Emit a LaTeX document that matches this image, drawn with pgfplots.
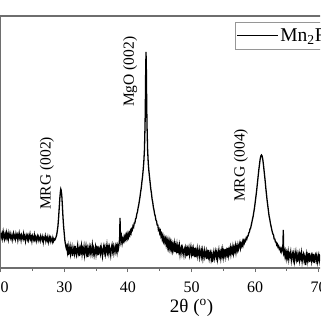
\documentclass[border=0pt]{standalone}
\usepackage{fontspec}
\setmainfont{Liberation Serif}
\usepackage{pgfplots}
\pgfplotsset{compat=1.18}
\definecolor{axisgray}{RGB}{110,110,110}
\definecolor{legendgray}{RGB}{150,150,150}

\begin{document}
\begin{tikzpicture}
\useasboundingbox (0,0) rectangle (320pt,320pt);
\clip (0,0) rectangle (320pt,320pt);
\begin{axis}[
  at={(0.7pt,52pt)}, anchor=south west,
  scale only axis, width=381.6pt, height=252pt,
  xmin=20, xmax=80, ymin=0, ymax=252,
  xtick={20,30,...,80}, minor x tick num=1,
  ytick=\empty,
  xtick pos=left,
  tick align=outside,
  major tick length=4pt, minor tick length=2.5pt,
  axis line style={draw=axisgray, line width=1.2pt},
  every tick/.style={axisgray, line width=1pt},
  /pgf/number format/assume math mode=true,
  xticklabel style={font=\fontsize{16}{18}\selectfont, anchor=base, yshift=-20pt},
  xlabel={2θ (\textsuperscript{o})},
  xlabel style={font=\fontsize{19}{22}\selectfont, anchor=base, at={(axis description cs:0.5,-0.1746)}},
  legend style={at={(0.614,0.977)}, anchor=north west, draw=legendgray, line width=0.8pt,
    font=\fontsize{19.5}{22}\selectfont, inner xsep=1pt, inner ysep=4.5pt},
  legend cell align=left,
  legend image code/.code={\draw[black, line width=1pt] (0pt,0pt) -- (41pt,0pt);},
]
\addplot[black, line width=1.3pt] table {
20.0 35
20.1 31
20.2 34
20.3 30
20.4 36
20.5 32
20.6 29
20.7 34
20.8 31
20.9 35
21.0 30
21.1 33
21.2 29
21.3 35
21.4 32
21.5 30
21.6 34
21.7 31
21.8 28
21.9 33
22.0 35
22.1 30
22.2 32
22.3 29
22.4 34
22.5 31
22.6 33
22.7 28
22.8 32
22.9 35
23.0 30
23.1 32
23.2 28
23.3 33
23.4 31
23.5 29
23.6 34
23.7 30
23.8 32
23.9 27
24.0 31
24.1 33
24.2 29
24.3 32
24.4 28
24.5 31
24.6 34
24.7 29
24.8 31
24.9 27
25.0 32
25.1 30
25.2 28
25.3 33
25.4 29
25.5 31
25.6 27
25.7 30
25.8 32
25.9 28
26.0 31
26.1 29
26.2 27
26.3 32
26.4 30
26.5 28
26.6 31
26.7 26
26.8 30
26.9 29
27.0 32
27.1 27
27.2 30
27.3 28
27.4 31
27.5 26
27.6 29
27.7 31
27.8 27
27.9 30
28.0 28
28.1 26
28.2 30
28.3 27
28.4 29
28.5 28
28.6 29
28.7 31
28.8 33
28.9 37
29.0 42
29.1 50
29.2 60
29.3 70
29.4 77
29.45 79
29.5 78
29.6 73
29.7 62
29.8 50
29.9 41
30.0 34
30.1 27
30.2 23
30.3 20
30.4 22
30.5 16
30.6 21
30.7 13
30.8 19
30.9 22
31.0 14
31.1 18
31.2 21
31.3 12
31.4 17
31.5 20
31.6 15
31.7 22
31.8 16
31.9 13
32.0 19
32.1 23
32.2 15
32.3 18
32.4 12
32.5 20
32.6 17
32.7 22
32.8 14
32.9 19
33.0 16
33.1 21
33.2 13
33.3 18
33.4 22
33.5 15
33.6 19
33.7 11
33.8 17
33.9 21
34.0 16
34.1 20
34.2 14
34.3 18
34.4 23
34.5 15
34.6 19
34.7 13
34.8 17
34.9 21
35.0 14
35.1 19
35.2 16
35.3 22
35.4 13
35.5 18
35.6 20
35.7 15
35.8 21
35.9 17
36.0 12
36.1 19
36.2 22
36.3 16
36.4 20
36.5 14
36.6 18
36.7 23
36.8 16
36.9 20
37.0 15
37.1 21
37.2 18
37.3 13
37.4 20
37.5 23
37.6 17
37.7 21
37.8 15
37.9 19
38.0 22
38.1 17
38.2 21
38.3 16
38.4 22
38.5 19
38.6 23
38.7 30
38.76 50
38.82 35
38.9 27
39.0 31
39.1 25
39.2 29
39.3 27
39.4 31
39.5 28
39.6 32
39.7 29
39.8 33
39.9 30
40.0 34
40.1 31
40.2 35
40.3 33
40.4 37
40.5 35
40.6 39
40.7 38
40.8 42
40.9 41
41.0 45
41.1 45
41.2 49
41.3 50
41.4 54
41.5 56
41.6 60
41.7 63
41.8 67
41.9 71
42.0 76
42.1 80
42.2 86
42.3 91
42.4 98
42.5 106
42.6 118
42.7 144
42.75 168
42.8 199
42.85 216
42.9 199
42.95 168
43.0 144
43.1 118
43.2 105
43.3 97
43.4 91
43.5 85
43.6 79
43.7 75
43.8 69
43.9 66
44.0 61
44.1 58
44.2 54
44.3 52
44.4 48
44.5 47
44.6 43
44.7 43
44.8 38
44.9 39
45.0 35
45.1 37
45.2 32
45.3 34
45.4 29
45.5 32
45.6 27
45.7 30
45.8 26
45.9 29
46.0 24
46.1 28
46.2 22
46.3 27
46.4 21
46.5 26
46.6 20
46.7 25
46.8 19
46.9 24
47.0 18
47.1 23
47.2 19
47.3 24
47.4 16
47.5 22
47.6 18
47.7 23
47.8 15
47.9 21
48.0 17
48.1 22
48.2 14
48.3 19
48.4 21
48.5 15
48.6 20
48.7 17
48.8 13
48.9 19
49.0 21
49.1 14
49.2 18
49.3 12
49.4 19
49.5 16
49.6 20
49.7 13
49.8 17
49.9 21
50.0 14
50.1 18
50.2 12
50.3 19
50.4 15
50.5 20
50.6 11
50.7 17
50.8 14
50.9 19
51.0 12
51.1 16
51.2 19
51.3 11
51.4 15
51.5 18
51.6 12
51.7 17
51.8 10
51.9 15
52.0 18
52.1 11
52.2 14
52.3 17
52.4 9
52.5 15
52.6 12
52.7 18
52.8 10
52.9 14
53.0 16
53.1 9
53.2 13
53.3 6
53.4 12
53.5 16
53.6 10
53.7 14
53.8 17
53.9 11
54.0 15
54.1 9
54.2 14
54.3 18
54.4 12
54.5 15
54.6 10
54.7 17
54.8 13
54.9 18
55.0 11
55.1 16
55.2 13
55.3 19
55.4 12
55.5 17
55.6 14
55.7 20
55.8 13
55.9 18
56.0 15
56.1 20
56.2 14
56.3 19
56.4 16
56.5 21
56.6 15
56.7 20
56.8 17
56.9 22
57.0 16
57.1 21
57.2 18
57.3 23
57.4 19
57.5 22
57.6 25
57.7 20
57.8 24
57.9 22
58.0 26
58.1 23
58.2 27
58.3 25
58.4 28
58.5 27
58.6 30
58.7 29
58.8 32
58.9 32
59.0 35
59.1 36
59.2 39
59.3 40
59.4 43
59.5 46
59.6 49
59.7 52
59.8 56
59.9 60
60.0 65
60.1 70
60.2 75
60.3 81
60.4 87
60.5 93
60.6 99
60.7 104
60.8 109
60.9 112
61.0 113
61.1 112
61.2 109
61.3 104
61.4 98
61.5 92
61.6 86
61.7 79
61.8 73
61.9 67
62.0 62
62.1 57
62.2 52
62.3 49
62.4 45
62.5 42
62.6 39
62.7 36
62.8 34
62.9 33
63.0 29
63.1 29
63.2 26
63.3 26
63.4 23
63.5 24
63.6 21
63.7 22
63.8 19
63.9 20
64.0 17
64.1 19
64.2 16
64.3 18
64.38 24
64.43 38
64.48 22
64.5 15
64.6 17
64.7 12
64.8 16
64.9 10
65.0 15
65.1 11
65.2 16
65.3 9
65.4 14
65.5 12
65.6 16
65.7 8
65.8 13
65.9 15
66.0 9
66.1 14
66.2 7
66.3 12
66.4 16
66.5 9
66.6 13
66.7 6
66.8 12
66.9 15
67.0 8
67.1 13
67.2 10
67.3 15
67.4 7
67.5 12
67.6 14
67.7 8
67.8 11
67.9 3
68.0 10
68.1 14
68.2 7
68.3 12
68.4 9
68.5 15
68.6 6
68.7 11
68.8 13
68.9 7
69.0 12
69.1 9
69.2 14
69.3 5
69.4 11
69.5 13
69.6 8
69.7 12
69.8 6
69.9 10
70.0 13
70.1 7
70.2 11
70.3 9
70.4 12
70.5 8
};
\addlegendentry{Mn\textsubscript{2}RuGa}

% peak assignments
\node[rotate=90, anchor=west, inner sep=0pt, font=\fontsize{15.5}{18}\selectfont]
  at (axis cs:27.28,58) {MRG (002)};
\node[rotate=90, anchor=west, inner sep=0pt, font=\fontsize{15.5}{18}\selectfont]
  at (axis cs:40.35,161) {MgO (002)};
\node[rotate=90, anchor=west, inner sep=0pt, font=\fontsize{15.5}{18}\selectfont]
  at (axis cs:57.78,66) {MRG (004)};
\end{axis}
\end{tikzpicture}
\end{document}
